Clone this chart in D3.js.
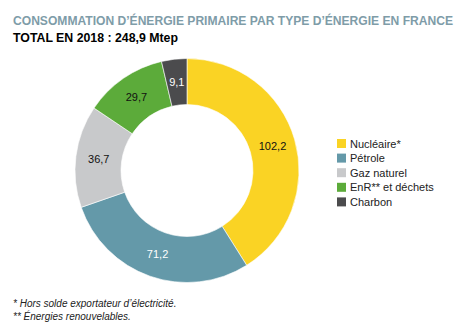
<!DOCTYPE html>
<html>
<head>
<meta charset="utf-8">
<script src="https://cdn.jsdelivr.net/npm/d3@7"></script>
<style>
  body { margin: 0; background: #fff; }
  svg { font-family: "Liberation Sans", Arial, sans-serif; }
</style>
</head>
<body>
<div id="chart"></div>
<script>
let categories = ['Nucléaire*', 'Pétrole', 'Gaz naturel', 'EnR** et déchets', 'Charbon']
let values = [102.2, 71.2, 36.7, 29.7, 9.1]
let valueLabels = ['102,2', '71,2', '36,7', '29,7', '9,1']
let colors = ['#fad324', '#6499a9', '#c8c9cb', '#5cab3a', '#4b4b4d']
let labelColors = ['#111', '#fff', '#111', '#111', '#fff']
let footnotes = ['* Hors solde exportateur d\u2019électricité.', '** Énergies renouvelables.']

let width = 474
let height = 335
let cx = 187
let cy = 170.5
let outerR = 112
let innerR = 66

let svg = d3.select('#chart')
  .append('svg')
  .attr('width', width)
  .attr('height', height)

svg.append('text')
  .attr('x', 13)
  .attr('y', 25)
  .attr('fill', '#7e9ca8')
  .style('font-size', '12.6px')
  .style('font-weight', 'bold')
  .attr('textLength', 440)
  .attr('lengthAdjust', 'spacingAndGlyphs')
  .text('CONSOMMATION D\u2019ÉNERGIE PRIMAIRE PAR TYPE D\u2019ÉNERGIE EN FRANCE')

svg.append('text')
  .attr('x', 13)
  .attr('y', 42)
  .attr('fill', '#000')
  .style('font-size', '12.6px')
  .style('font-weight', 'bold')
  .attr('textLength', 165)
  .attr('lengthAdjust', 'spacingAndGlyphs')
  .text('TOTAL EN 2018 : 248,9 Mtep')

let data = categories.map((c, i) => ({ name: c, value: values[i], label: valueLabels[i], i: i }))

let pie = d3.pie().sort(null).value(d => d.value)
let arc = d3.arc().innerRadius(innerR).outerRadius(outerR)
let arcs = pie(data)

let g = svg.append('g').attr('transform', 'translate(' + cx + ',' + cy + ')')

g.selectAll('path')
  .data(arcs)
  .enter()
  .append('path')
  .attr('d', arc)
  .attr('fill', d => colors[d.data.i])
  .attr('stroke', '#fff')
  .attr('stroke-width', 0.6)

g.selectAll('text.val')
  .data(arcs)
  .enter()
  .append('text')
  .attr('class', 'val')
  .attr('transform', d => 'translate(' + arc.centroid(d) + ')')
  .attr('dy', '0.35em')
  .attr('text-anchor', 'middle')
  .attr('fill', d => labelColors[d.data.i])
  .style('font-size', '11px')
  .text(d => d.data.label)

// legende
let legend = svg.append('g').attr('transform', 'translate(337,139)')
let rows = legend.selectAll('g')
  .data(data)
  .enter()
  .append('g')
  .attr('transform', (d, i) => 'translate(0,' + i * 14.6 + ')')

rows.append('rect')
  .attr('width', 9)
  .attr('height', 9)
  .attr('fill', d => colors[d.i])

rows.append('text')
  .attr('x', 13)
  .attr('y', 8.5)
  .attr('fill', '#222')
  .style('font-size', '11px')
  .text(d => d.name)

svg.selectAll('text.note')
  .data(footnotes)
  .enter()
  .append('text')
  .attr('class', 'note')
  .attr('x', 13)
  .attr('y', (d, i) => 307 + i * 13)
  .attr('fill', '#222')
  .style('font-size', '10px')
  .style('font-style', 'italic')
  .text(d => d)
</script>
</body>
</html>
